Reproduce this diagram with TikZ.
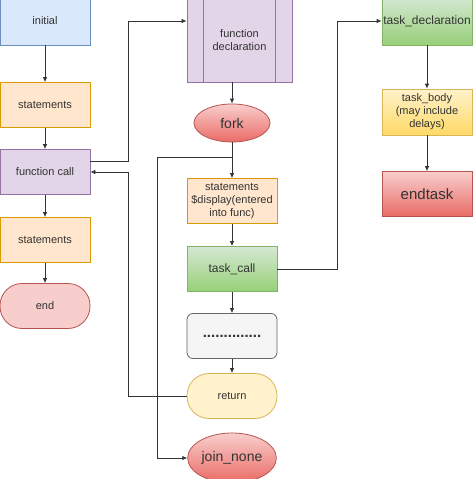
\documentclass[tikz,border=0pt]{standalone}
\usepackage{fontspec}
\setmainfont{Liberation Sans}
\usetikzlibrary{shapes.geometric,arrows.meta}

\definecolor{blueF}{HTML}{DAE8FC}\definecolor{blueD}{HTML}{6C8EBF}
\definecolor{orangeF}{HTML}{FFE6CC}\definecolor{orangeD}{HTML}{D79B00}
\definecolor{purpleF}{HTML}{E1D5E7}\definecolor{purpleD}{HTML}{9673A6}
\definecolor{redF}{HTML}{F8CECC}\definecolor{redG}{HTML}{EA6B66}\definecolor{redD}{HTML}{B85450}
\definecolor{greenF}{HTML}{D5E8D4}\definecolor{greenG}{HTML}{97D077}\definecolor{greenD}{HTML}{82B366}
\definecolor{grayF}{HTML}{F5F5F5}\definecolor{grayD}{HTML}{666666}
\definecolor{yellowF}{HTML}{FFF2CC}\definecolor{yellowG}{HTML}{FFD966}\definecolor{yellowD}{HTML}{D6B656}
\definecolor{ink}{HTML}{333333}

\begin{document}
\begin{tikzpicture}[x=1pt, y=-1pt, line width=0.8pt,
    every node/.style={text=ink, font=\fontsize{11}{13}\selectfont, align=center, inner sep=1pt},
    box/.style={draw, rectangle, minimum width=90pt, minimum height=45pt},
    stadium/.style={draw, rectangle, rounded corners=22pt, minimum width=90pt, minimum height=45pt},
    oval/.style={draw, ellipse, minimum width=76pt, minimum height=38pt},
    link/.style={draw=ink, -{Latex[length=5pt,width=4.5pt]}},
    wire/.style={draw=ink}]

    \useasboundingbox (0,0) rectangle (474,479);

    % Draw the main flow on the left
    \node[box, fill=blueF, draw=blueD, minimum height=48pt] (initial) at (45,21) {initial};
    \node[box, fill=orangeF, draw=orangeD] (stmtA) at (45,105) {statements};
    \node[box, fill=purpleF, draw=purpleD] (fcall) at (45,172) {function call};
    \node[box, fill=orangeF, draw=orangeD] (stmtB) at (45,240) {statements};
    \node[stadium, fill=redF, draw=redD] (endA) at (45,306) {end};

    % Draw the function column
    \node[box, fill=purpleF, draw=purpleD, minimum width=105pt, minimum height=84pt] (fdecl) at (239.5,40) {function\\declaration};
    \draw[purpleD] ([xshift=-36pt]fdecl.north) -- ([xshift=-36pt]fdecl.south);
    \draw[purpleD] ([xshift=36pt]fdecl.north) -- ([xshift=36pt]fdecl.south);
    \node[oval, top color=redF, bottom color=redG, draw=redD, font=\fontsize{14}{16}\selectfont] (fork) at (232,123) {fork};
    \node[box, fill=orangeF, draw=orangeD] (stmtC) at (232,201) {statements\\\$display(entered\\into func)};
    \node[box, top color=greenF, bottom color=greenG, draw=greenD, font=\fontsize{12}{14}\selectfont] (tcall) at (232,269) {task\_call};
    \node[box, fill=grayF, draw=grayD, rounded corners=6pt, font=\fontsize{15}{17}\selectfont\bfseries] (dots) at (232,336) {..............};
    \node[stadium, fill=yellowF, draw=yellowD] (ret) at (232,396) {return};
    \node[oval, top color=redF, bottom color=redG, draw=redD, minimum width=82pt, minimum height=50pt, font=\fontsize{14}{16}\selectfont] (join) at (232,458) {join\_none};

    % Draw the task column
    \node[box, top color=greenF, bottom color=greenG, draw=greenD, minimum height=48pt, font=\fontsize{12}{14}\selectfont] (tdecl) at (427,21) {task\_declaration};
    \node[box, top color=yellowF, bottom color=yellowG, draw=yellowD, minimum height=46pt] (tbody) at (427,112) {task\_body\\(may include\\delays)};
    \node[box, top color=redF, bottom color=redG, draw=redD, font=\fontsize{15}{17}\selectfont] (endtask) at (427,194) {endtask};

    % Draw the straight arrows
    \draw[link] (initial) -- (stmtA);
    \draw[link] (stmtA) -- (fcall);
    \draw[link] (fcall) -- (stmtB);
    \draw[link] (stmtB) -- (endA);
    \draw[link] (fork.north |- fdecl.south) -- (fork.north);
    \draw[link] (fork) -- (stmtC);
    \draw[link] (stmtC) -- (tcall);
    \draw[link] (tcall) -- (dots);
    \draw[link] (dots) -- (ret);
    \draw[link] (tdecl) -- (tbody);
    \draw[link] (tbody) -- (endtask);

    % Draw the bent wires
    \coordinate (busA) at (128,0);
    \coordinate (busB) at (157,0);
    \coordinate (busC) at (337,0);
    \coordinate (split) at (232,157);
    \coordinate (outA) at ([yshift=11pt]fcall.east);
    \coordinate (inA) at ([yshift=19pt]fdecl.west);
    \draw[link] (outA) -- (outA -| busA) -- (inA -| busA) -- (inA);
    \draw[link] (ret.west) -- (ret.west -| busA) -- (fcall.east -| busA) -- (fcall.east);
    \draw[link] (split) -- (split -| busB) -- (join.west -| busB) -- (join.west);
    \draw[link] (tcall.east) -- (tcall.east -| busC) -- (tdecl.west -| busC) -- (tdecl.west);

\end{tikzpicture}
\end{document}
